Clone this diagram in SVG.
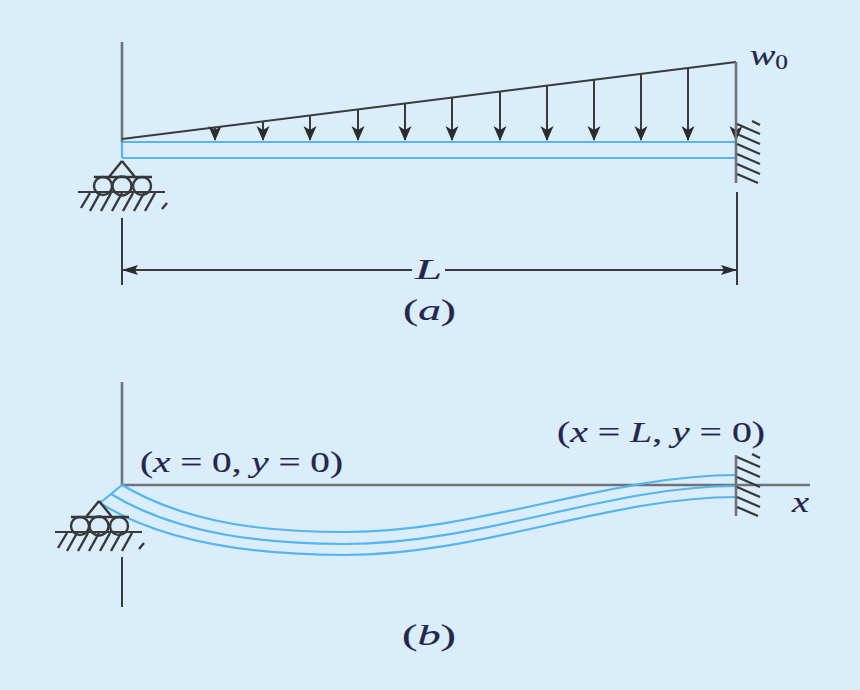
<svg xmlns="http://www.w3.org/2000/svg" width="860" height="690" viewBox="0 0 860 690">
<style>
.k{stroke:#3a3a3c;stroke-width:2;fill:none}
.g{stroke:#6f7377;stroke-width:2.6;fill:none}
.h{stroke:#38383a;stroke-width:2.4;fill:none}
.b{stroke:#55b5ec;stroke-width:2.2;fill:none}
.t{font-family:"Liberation Serif",serif;font-size:30px;fill:#26264a;stroke:#26264a;stroke-width:.2}
.i{font-style:italic}
</style>
<defs>
<marker id="a" markerUnits="userSpaceOnUse" markerWidth="15" markerHeight="14" refX="14" refY="7" orient="auto" viewBox="0 0 15 14"><path d="M0 0.5L4 7L0 13.5L15 7Z" fill="#2c2c2e"/></marker>
<marker id="d" markerUnits="userSpaceOnUse" markerWidth="16" markerHeight="10" refX="15" refY="5" orient="auto-start-reverse" viewBox="0 0 16 10"><path d="M0 0L16 5L0 10L3 5Z" fill="#2c2c2e"/></marker>
<g id="sup"><path class="h" d="M0 0L-13 16M0 0L13 16M-28 16H30"/><circle class="h" cx="-19" cy="25" r="9"/><circle class="h" cx="0" cy="25" r="9.5"/><circle class="h" cx="20" cy="25" r="9"/><path class="k" d="M-44 31H43"/><path class="h" d="M-32 32L-41 47M-22 32L-32 50M-11 32L-21 50M0 32L-10 50M11 32L1 50M22 32L12 50M33 32L23 50M45 42L40 48"/></g>
<g id="wall"><path class="g" d="M0 0V61"/><path class="h" d="M16 -1L24 3M1 2L24 12M1 12L24 22M1 22L24 32M1 32L24 42M1 42L24 52M1 52L22 61"/></g>
</defs>
<rect width="860" height="690" fill="#d9edfb"/>
<g id="beam-a">
<path class="b" d="M122 142H736M122 158H736M122 142V158"/>
</g>
<g id="connectors">
<path class="g" d="M122 42V142"/>
<path class="k" d="M122 139L736 62"/>
<path class="g" d="M736 62V122"/>
<path class="k" marker-end="url(#a)" d="M215 127V140"/>
<path class="k" marker-end="url(#a)" d="M263 121V140"/>
<path class="k" marker-end="url(#a)" d="M310 115V140"/>
<path class="k" marker-end="url(#a)" d="M358 109V140"/>
<path class="k" marker-end="url(#a)" d="M405 103V140"/>
<path class="k" marker-end="url(#a)" d="M452 97V140"/>
<path class="k" marker-end="url(#a)" d="M500 91V140"/>
<path class="k" marker-end="url(#a)" d="M547 85V140"/>
<path class="k" marker-end="url(#a)" d="M594 79V140"/>
<path class="k" marker-end="url(#a)" d="M641 73V140"/>
<path class="k" marker-end="url(#a)" d="M688 68V140"/>
<path class="k" marker-end="url(#a)" d="M736 122V140"/>
<path class="k" d="M122 218V285M737 192V285"/>
<path class="k" marker-start="url(#d)" d="M123 270H412"/>
<path class="k" marker-end="url(#d)" d="M445 270H736"/>
<path class="g" d="M122 382V485"/>
<path class="k" d="M122 557V607"/>
<path class="g" d="M122 485H810"/>
<path class="b" d="M122 485C190 525 270 532 345 532C480 532 610 475 736 475"/>
<path class="b" d="M111 494C180 536 270 544 345 544C480 544 610 486 736 486"/>
<path class="b" d="M100 503C170 547 270 555 345 555C480 555 610 497 736 497"/>
<path class="b" d="M122 485L100 503"/>
</g>
<g id="support-a"><use href="#sup" x="122" y="161"/></g>
<g id="wall-a"><use href="#wall" x="736" y="122"/></g>
<g id="support-b"><use href="#sup" x="99" y="501"/></g>
<g id="wall-b"><use href="#wall" x="736" y="455"/></g>
<g id="labels">
<text class="t i" x="750" y="65" textLength="38" lengthAdjust="spacingAndGlyphs">w<tspan font-size="20" font-style="normal" dy="4">0</tspan></text>
<text class="t i" x="415" y="279" textLength="27" lengthAdjust="spacingAndGlyphs">L</text>
<text class="t" x="403" y="320" textLength="53" lengthAdjust="spacingAndGlyphs">(<tspan class="i">a</tspan>)</text>
<text class="t" x="140" y="472" textLength="203" lengthAdjust="spacingAndGlyphs">(<tspan class="i">x</tspan> = 0, <tspan class="i">y</tspan> = 0)</text>
<text class="t" x="557" y="442" textLength="208" lengthAdjust="spacingAndGlyphs">(<tspan class="i">x</tspan> = <tspan class="i">L</tspan>, <tspan class="i">y</tspan> = 0)</text>
<text class="t i" x="792" y="512" textLength="17" lengthAdjust="spacingAndGlyphs">x</text>
<text class="t" x="402" y="645" textLength="54" lengthAdjust="spacingAndGlyphs">(<tspan class="i">b</tspan>)</text>
</g>
</svg>
